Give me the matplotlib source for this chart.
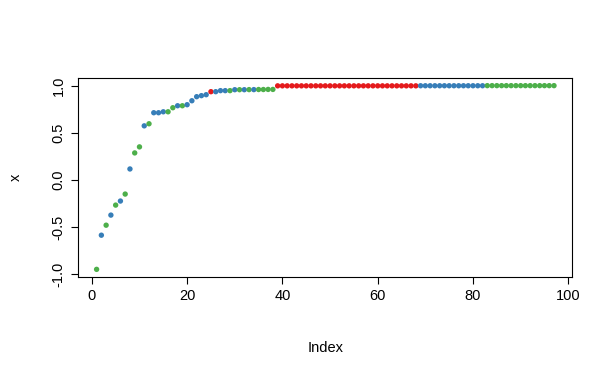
import matplotlib
matplotlib.use("Agg")
import matplotlib.pyplot as plt
import numpy as np

plt.rcParams['font.family'] = ['Liberation Sans', 'DejaVu Sans']

# values (index 1..97)
values = [-0.947, -0.585, -0.479, -0.372, -0.266, -0.223, -0.149, 0.117, 0.287, 0.351,
          0.574, 0.596, 0.713, 0.713, 0.723, 0.723, 0.766, 0.787, 0.787, 0.798,
          0.840, 0.883, 0.894, 0.904, 0.936, 0.936, 0.947, 0.947, 0.947, 0.957,
          0.957, 0.957, 0.958, 0.958, 0.959, 0.959, 0.960, 0.960] \
         + [0.998] * 30 + [0.999] * 14 + [1.0] * 15

groups = list("GBGBGBGBGGBGBBBGGBGBBBBBRBBBGBGBGBGGGG") \
         + ["R"] * 30 + ["B"] * 14 + ["G"] * 15

palette = {"R": "#E41A1C", "B": "#377EB8", "G": "#4DAF4A"}

index = np.arange(1, len(values) + 1)
colors = [palette[g] for g in groups]

fig = plt.figure(figsize=(6.13, 3.75), dpi=100)
ax = fig.add_axes([78.3 / 613, 1 - 276.7 / 375, (572.3 - 78.3) / 613, (276.7 - 78.3) / 375])
ax.scatter(index, values, c=colors, s=15, linewidths=0, zorder=3)

xmin, xmax = index.min(), index.max()
ymin, ymax = min(values), max(values)
ax.set_xlim(xmin - 0.04 * (xmax - xmin), xmax + 0.04 * (xmax - xmin))
ax.set_ylim(ymin - 0.04 * (ymax - ymin), ymax + 0.04 * (ymax - ymin))

ax.set_xticks([0, 20, 40, 60, 80, 100])
ax.set_yticks([-1.0, -0.5, 0.0, 0.5, 1.0])
ax.set_yticklabels(["-1.0", "-0.5", "0.0", "0.5", "1.0"], rotation=90, va="center")
ax.tick_params(direction="out", length=5, width=0.8, labelsize=10.5, pad=4, colors="black")
ax.set_xlabel("Index", fontsize=10.5, labelpad=27)
ax.set_ylabel("x", fontsize=10.5, labelpad=21)
for s in ax.spines.values():
    s.set_linewidth(0.8)

fig.savefig("out.png", dpi=100)
